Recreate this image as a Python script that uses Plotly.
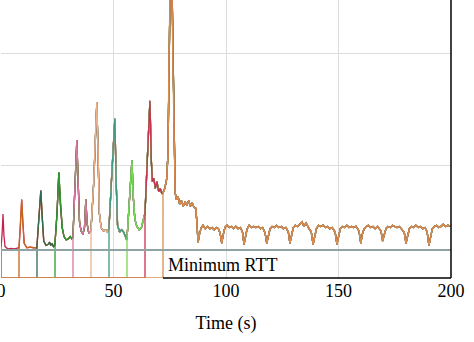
import plotly.graph_objects as go

# ---- data ----
# shared RTT curve (all flows see the same queue); units: ms-like, grid every 100
TIME = [0.0, 0.5, 0.9, 1.3, 1.8, 3.0, 4.5, 6.0, 7.9,
        8.0, 8.6, 9.2, 9.7, 10.3, 11.5, 13.0, 14.5, 15.9,
        16.0, 16.9, 17.7, 18.3, 19.0, 20.0, 21.0, 21.6, 22.1, 22.7, 23.3, 23.9,
        24.0, 24.9, 25.7, 26.4, 27.2, 28.0, 29.0, 30.0, 30.8, 31.4, 31.9,
        32.0, 33.0, 33.7, 34.3, 34.9, 35.6, 36.4, 37.1, 37.7, 38.3, 39.0, 39.9,
        40.0, 41.2, 42.0, 42.6, 43.1, 43.7, 44.5, 45.5, 46.5, 47.3, 47.9,
        48.0, 49.3, 50.1, 50.6, 51.2, 51.8, 52.7, 53.6, 54.5, 55.3, 55.9,
        56.0, 57.1, 57.8, 58.2, 58.8, 59.5, 60.4, 61.4, 62.4, 63.3, 63.9,
        64.0, 65.0, 65.7, 66.2, 66.8, 67.3, 67.9, 68.6, 69.3, 70.1, 70.8, 71.5, 71.9,
        72.0, 72.8, 73.6, 74.2, 74.7, 75.3, 75.9, 76.4, 76.9, 77.4, 78.0, 78.7,
        79.4, 80.2, 81.0, 81.8, 82.6, 83.4, 84.2, 85.0, 85.8, 86.6, 87.1, 87.6,
        88.3, 89.0, 89.8, 90.8, 91.8, 92.8, 93.8, 94.8, 95.8, 96.6, 97.4, 98.1,
        98.8, 99.5, 100.4, 101.4, 102.4, 103.4, 104.4, 105.4, 106.4, 107.3, 108.0,
        108.7, 109.4, 110.3, 111.3, 112.3, 113.3, 114.3, 115.3, 116.3, 117.4, 118.1,
        118.8, 119.6, 120.5, 121.5, 122.5, 123.5, 124.5, 125.5, 126.6, 127.7, 128.4,
        129.1, 129.9, 130.8, 131.8, 132.8, 133.8, 134.6, 135.6, 136.6, 137.9, 138.7,
        139.4, 140.2, 141.1, 142.1, 143.1, 144.1, 145.1, 146.1, 147.2, 148.5, 149.3,
        150.0, 150.8, 151.7, 152.7, 153.7, 154.7, 155.7, 156.7, 157.8, 159.1, 159.9,
        160.6, 161.4, 162.3, 163.3, 164.3, 165.3, 166.3, 167.3, 168.9, 169.6,
        170.3, 171.1, 172.0, 173.0, 174.0, 175.0, 176.0, 177.0, 178.0, 179.2, 180.0,
        180.7, 181.5, 182.4, 183.4, 184.4, 185.4, 186.4, 187.4, 188.4, 189.4, 190.2,
        190.9, 191.7, 192.6, 193.6, 194.6, 195.6, 196.6, 197.6, 198.6, 199.4, 200.0]
RTT = [27, 40, 57, 38, 28, 26, 26.5, 26, 26.5,
       27, 45, 70, 50, 31, 27, 27.5, 27, 27,
       29, 52, 78, 55, 33, 29, 30, 32, 29, 31, 28, 29,
       31, 58, 94, 66, 45, 37, 34, 35, 37, 35, 36,
       38, 82, 123, 85, 50, 42, 39, 45, 70, 48, 40, 42,
       43, 85, 130, 157, 115, 58, 45, 42, 43, 41, 44,
       45, 95, 130, 142, 85, 47, 41, 43, 41, 37, 34,
       35, 70, 95, 105, 72, 52, 46, 43, 45, 52, 56,
       58, 105, 140, 158, 105, 86, 89, 80, 86, 77, 80, 75, 76,
       76, 80, 88, 110, 200, 280, 275, 190, 110, 76, 70, 73,
       66, 69, 64, 68, 65, 69, 64, 67, 63, 62, 48, 32,
       40, 45, 47, 44, 46, 44, 45, 43, 45, 44, 40, 31,
       39, 45, 47, 45, 46, 44, 46, 44, 45, 41, 30,
       38, 44, 47, 45, 46, 45, 46, 44, 45, 40, 31,
       38, 44, 46, 45, 47, 45, 46, 44, 45, 41, 31,
       39, 45, 47, 46, 48, 50, 46, 49, 45, 41, 30,
       38, 44, 47, 46, 47, 45, 46, 44, 45, 41, 30,
       38, 44, 46, 45, 47, 45, 46, 45, 46, 42, 31,
       39, 44, 46, 47, 45, 46, 44, 46, 42, 33,
       39, 44, 46, 45, 47, 46, 45, 46, 44, 41, 31,
       38, 44, 46, 45, 47, 45, 46, 44, 45, 41, 29,
       38, 44, 46, 47, 45, 46, 48, 46, 47, 46, 46]

FLOW_STARTS = [0, 8, 16, 24, 32, 40, 48, 56, 64, 72]
FLOW_COLORS = ["#c8234a", "#c8641e", "#2e6b50", "#2e9a2e", "#d9789e",
               "#eab48a", "#3d9a80", "#78d850", "#c83250", "#d9904e"]
MIN_RTT = 25
X_TICKS = [0, 50, 100, 150, 200]
Y_GRID = [0, 100, 200]

FONT = "Liberation Serif"

fig = go.Figure()
for s, c in zip(FLOW_STARTS, FLOW_COLORS):
    xs = [0, s] + [t for t in TIME if t >= s]
    ys = [0, 0] + [v for t, v in zip(TIME, RTT) if t >= s]
    fig.add_trace(go.Scatter(x=xs, y=ys, mode="lines",
                             line=dict(color=c, width=1.3), showlegend=False,
                             hoverinfo="skip"))

fig.add_trace(go.Scatter(x=[X_TICKS[0], X_TICKS[-1]], y=[MIN_RTT, MIN_RTT],
                         mode="lines", line=dict(color="#8fa3a3", width=2),
                         showlegend=False, hoverinfo="skip"))

fig.add_annotation(x=FLOW_STARTS[-1] + 1.5, y=11.5, xref="x", yref="y",
                   text="Minimum RTT", showarrow=False, xanchor="left",
                   yanchor="middle", font=dict(family=FONT, size=18, color="black"))

# frame pieces: right border and bottom axis (uncovered part)
fig.add_shape(type="line", xref="paper", yref="paper", x0=1, x1=1, y0=0, y1=1,
              line=dict(color="black", width=1.5), layer="above")
fig.add_shape(type="line", xref="x", yref="paper", x0=FLOW_STARTS[-1],
              x1=X_TICKS[-1], y0=0, y1=0,
              line=dict(color="black", width=1.5), layer="above")

fig.update_layout(
    width=474, height=342,
    margin=dict(l=1, r=23, t=0, b=64),
    paper_bgcolor="white", plot_bgcolor="white",
    font=dict(family=FONT, size=18, color="black"),
    xaxis=dict(range=[X_TICKS[0], X_TICKS[-1]], tickvals=X_TICKS,
               ticktext=[str(v) for v in X_TICKS], showgrid=True,
               gridcolor="#dcdcdc", gridwidth=1, zeroline=False, showline=False,
               ticks="", ticklabeloverflow="allow", automargin=False,
               tickfont=dict(family=FONT, size=18, color="black"),
               title=dict(text="Time (s)", font=dict(family=FONT, size=18, color="black"),
                          standoff=16)),
    yaxis=dict(range=[0, 248], tickvals=Y_GRID, showticklabels=False,
               showgrid=True, gridcolor="#dcdcdc", gridwidth=1,
               zeroline=False, showline=False, ticks="", automargin=False),
)

fig.write_html("out.html")
